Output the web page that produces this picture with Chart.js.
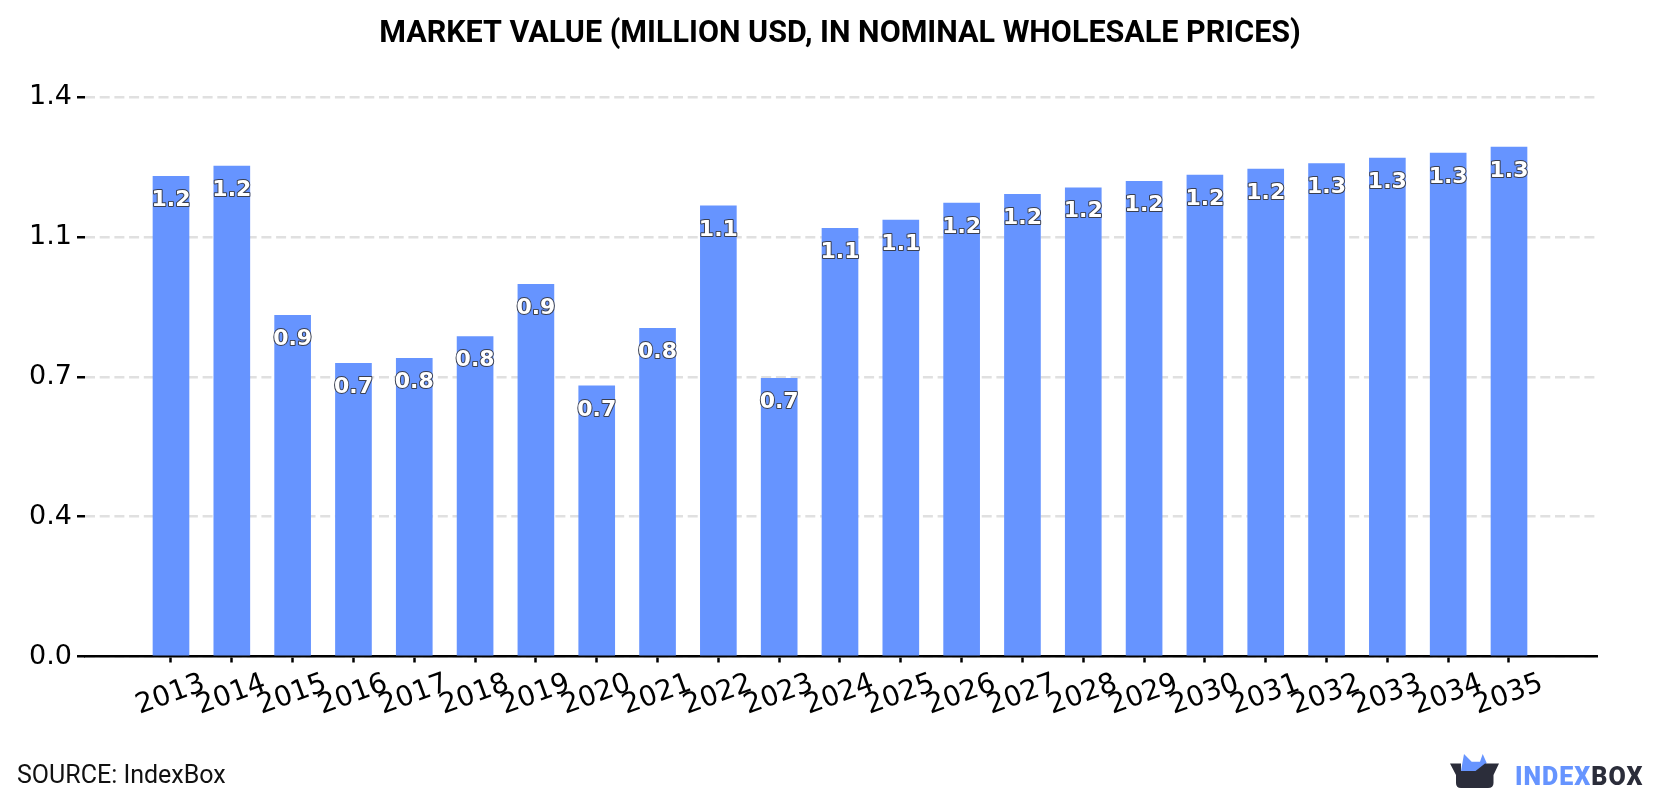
<!DOCTYPE html>
<html>
<head>
<meta charset="utf-8">
<title>Market value</title>
<script src="https://cdn.jsdelivr.net/npm/chart.js@4"></script>
<style>
  html, body { margin: 0; padding: 0; background: #fff; }
  #wrap { position: relative; width: 1680px; height: 800px; overflow: hidden; }
  #source { position: absolute; left: 17px; top: 760px; font: 25px Roboto, sans-serif; color: #111; }
  #logo { position: absolute; left: 0; top: 0; }
</style>
</head>
<body>
<div id="wrap">
  <canvas id="marketChart" width="1680" height="800"></canvas>
  <div id="source">SOURCE: IndexBox</div>
  <svg id="logo" width="1680" height="800">
    <path d="M1461 771 L1464 754 L1471.7 761.7 L1480 761.7 L1482.7 754 L1486.7 763 L1476 772 Z" fill="#6694ff"/>
    <path d="M1450 763.5 L1461 763.5 L1461 771 L1475.5 771 L1485 763.5 L1499 763.5 L1493.5 775 L1493.5 783 Q1493.5 788 1488 788 L1461 788 Q1456 788 1456 783 L1456 775 Z" fill="#2b2d3a"/>
    <text x="1515" y="785" font-family="Roboto, sans-serif" font-weight="900" font-size="25" letter-spacing="1"><tspan fill="#6694ff">INDEX</tspan><tspan fill="#2b2d3a">BOX</tspan></text>
  </svg>
</div>
<script>
const TITLE = "MARKET VALUE (MILLION USD, IN NOMINAL WHOLESALE PRICES)";
const years = [2013, 2014, 2015, 2016, 2017, 2018, 2019, 2020, 2021, 2022, 2023, 2024,
  2025, 2026, 2027, 2028, 2029, 2030, 2031, 2032, 2033, 2034, 2035];
const marketValues = [1.219, 1.245, 0.866, 0.744, 0.757, 0.812, 0.945, 0.687, 0.833, 1.144, 0.706, 1.087,
  1.108, 1.151, 1.173, 1.19, 1.206, 1.222, 1.237, 1.251, 1.265, 1.278, 1.293];
const yTicks = [0, 0.355, 0.71, 1.065, 1.42];

const BAR_COLOR = "#6694ff";

// white value labels with a dark outline, just under the top of each bar
const barLabels = {
  id: "barLabels",
  afterDatasetsDraw(chart) {
    const { ctx } = chart;
    ctx.save();
    ctx.font = "bold 22px 'DejaVu Sans'";
    ctx.textAlign = "center";
    ctx.textBaseline = "middle";
    ctx.lineJoin = "round";
    ctx.lineWidth = 2;
    ctx.strokeStyle = "#3a3f4f";
    ctx.fillStyle = "#fff";
    chart.getDatasetMeta(0).data.forEach((bar, i) => {
      const label = marketValues[i].toFixed(1);
      ctx.strokeText(label, bar.x, bar.y + 24);
      ctx.fillText(label, bar.x, bar.y + 24);
    });
    ctx.restore();
  },
};

new Chart(document.getElementById("marketChart"), {
  type: "bar",
  data: {
    datasets: [
      {
        data: years.map((year, i) => ({ x: year, y: marketValues[i] })),
        backgroundColor: BAR_COLOR,
        barThickness: 36,
      },
    ],
  },
  options: {
    responsive: false,
    animation: false,
    plugins: {
      legend: { display: false },
      tooltip: { enabled: false },
      title: {
        display: true,
        text: TITLE,
        color: "#000",
        font: { family: "Roboto", weight: "700", size: 30.5 },
        padding: { top: 16, bottom: 44.5 },
      },
    },
    scales: {
      x: {
        type: "linear",
        offset: false,
        min: 2011.586,
        max: 2036.447,
        afterBuildTicks: (scale) => {
          scale.ticks = years.map((value) => ({ value }));
        },
        afterFit: (scale) => {
          scale.height = 143.5;
        },
        border: { color: "#000", width: 2.5 },
        grid: { offset: false, drawOnChartArea: false, color: "#000", tickLength: 6, tickWidth: 2.5 },
        ticks: {
          autoSkip: false,
          minRotation: 20,
          maxRotation: 20,
          padding: 4.5,
          labelOffset: 33,
          color: "#000",
          font: { family: "'DejaVu Sans'", size: 28 },
          callback: (value) => String(value),
        },
      },
      y: {
        min: 0,
        max: 1.42,
        afterBuildTicks: (scale) => {
          scale.ticks = yTicks.map((value) => ({ value }));
        },
        afterFit: (scale) => {
          scale.width = 85;
        },
        border: { display: false, dash: [10, 4.7] },
        grid: { color: "#e0e0e0", lineWidth: 2.5, tickColor: "#000", tickLength: 8, tickWidth: 2.5 },
        ticks: {
          padding: 5,
          color: "#000",
          font: { family: "'DejaVu Sans'", size: 27 },
          callback: (value) => value.toFixed(1),
        },
      },
      // empty axis that holds the right margin, so the title stays centred on the page
      rightGap: {
        type: "linear",
        position: "right",
        afterFit: (scale) => {
          scale.width = 83;
        },
        border: { display: false },
        grid: { display: false },
        ticks: { display: false },
      },
    },
  },
  plugins: [barLabels],
});
</script>
</body>
</html>
